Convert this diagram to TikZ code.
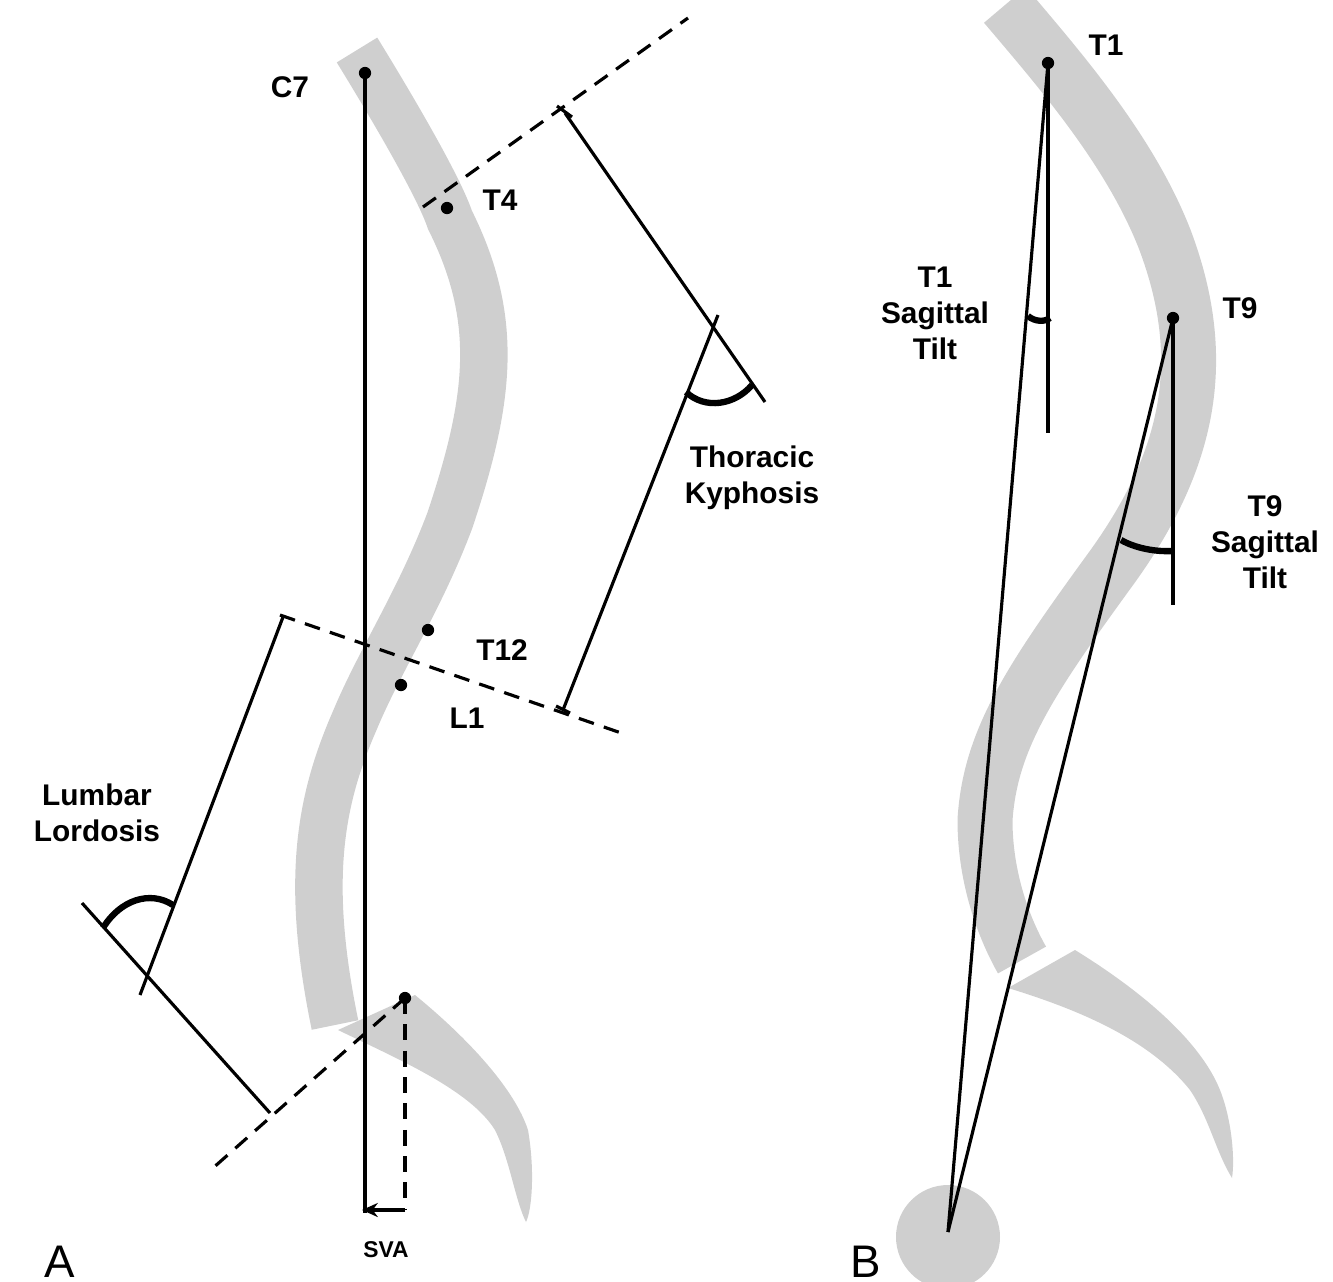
\documentclass[tikz,border=0pt]{standalone}
\usepackage{fontspec}
\setmainfont{Liberation Sans}
\usetikzlibrary{arrows.meta}
\begin{document}
\begin{tikzpicture}[x=0.02cm,y=-0.02cm,
  bone/.style={draw=gray!38,line width=0.95cm,line cap=butt},
  bonefill/.style={fill=gray!38},
  ln/.style={line width=1.8pt},
  dsh/.style={line width=1.8pt,dash pattern=on 9pt off 6pt},
  ang/.style={line width=3.6pt},
  lab/.style={font=\bfseries\fontsize{17}{20.5}\selectfont,align=center},
  dot/.style={circle,fill=black,inner sep=0pt,minimum size=7pt}]
\useasboundingbox (0,0) rectangle (1333,1282);
% spine A
\draw[bone] (357,50) .. controls (400,120) and (440,190) .. (450,220)
  .. controls (500,320) and (490,400) .. (450,520)
  .. controls (420,600) and (380,660) .. (355,720)
  .. controls (320,800) and (305,880) .. (335,1025);
\fill[bonefill] (338,1030) -- (415,995) .. controls (470,1040) and (515,1090) .. (528,1130)
  .. controls (535,1170) and (532,1210) .. (526,1222)
  .. controls (515,1200) and (510,1160) .. (495,1130)
  .. controls (470,1090) and (400,1060) .. (338,1030) -- cycle;
% spine B
\draw[bone,line width=1.1cm] (1005,5) .. controls (1060,70) and (1130,150) .. (1165,240)
  .. controls (1210,360) and (1190,460) .. (1110,570)
  .. controls (1030,680) and (990,740) .. (985,820)
  .. controls (985,880) and (1005,930) .. (1022,960);
\fill[bonefill] (1008,988) -- (1075,950) .. controls (1140,990) and (1200,1040) .. (1220,1090)
  .. controls (1232,1120) and (1235,1160) .. (1232,1178)
  .. controls (1215,1150) and (1210,1120) .. (1190,1090)
  .. controls (1150,1040) and (1080,1010) .. (1008,988) -- cycle;
\fill[bonefill] (948,1237) circle (52);
% A points
\node[dot] (c7) at (365,73) {};
\node[dot] (t4) at (447,208) {};
\node[dot] (t12) at (428,630) {};
\node[dot] (l1) at (401,685) {};
\node[dot] (s1) at (405,998) {};
\coordinate (c7b) at (365,1213);
\coordinate (sb) at (405,1210);
\coordinate (arr) at (362,1210);
\draw[ln] (c7.center) -- (c7b);
\draw[dsh] (s1.center) -- (sb);
\draw[ln,-{Stealth[length=9pt,width=8pt]}] (sb) -- (arr);
\draw[dsh] (s1.center) -- (213,1168);
\draw[dsh] (423,207) -- (688,18);
\draw[dsh] (280,615) -- (627,735);
% kyphosis
\draw[ln] (565,113) -- (765,402);
\draw[ln] (563,710) -- (718,315);
\draw[ln] (557,106) -- (572,117);
\draw[ln] (556,706) -- (570,713);
\draw[ang] (686,392) .. controls (705,410) and (735,405) .. (752,385);
% lordosis
\draw[ln] (283,617) -- (140,995);
\draw[ln] (82,903) -- (270,1113);
\draw[ang] (103,928) .. controls (120,900) and (150,890) .. (173,905);
% labels A
\node[lab] at (290,87) {C7};
\node[lab] at (500,200) {T4};
\node[lab] at (502,650) {T12};
\node[lab] at (467,718) {L1};
\node[lab] at (752,478) {Thoracic\\Kyphosis};
\node[lab] at (97,813) {Lumbar\\Lordosis};
\node[lab,font=\bfseries\fontsize{13}{16}\selectfont] at (386,1250) {SVA};
\node[font=\fontsize{26}{30}\selectfont] at (60,1262) {A};
\node[font=\fontsize{26}{30}\selectfont] at (866,1262) {B};
% B
\node[dot] (t1) at (1048,63) {};
\node[dot] (t9) at (1173,318) {};
\coordinate (hip) at (948,1232);
\draw[ln] (t1.center) -- (1048,433);
\draw[ln] (t1.center) -- (hip);
\draw[ln] (t9.center) -- (1173,605);
\draw[ln] (t9.center) -- (hip);
\draw[ang] (1028,316) .. controls (1035,322) and (1045,322) .. (1050,318);
\draw[ang] (1121,540) .. controls (1135,548) and (1155,552) .. (1173,551);
\node[lab] at (1106,45) {T1};
\node[lab] at (1240,308) {T9};
\node[lab] at (935,313) {T1\\Sagittal\\Tilt};
\node[lab] at (1265,542) {T9\\Sagittal\\Tilt};
\end{tikzpicture}
\end{document}
